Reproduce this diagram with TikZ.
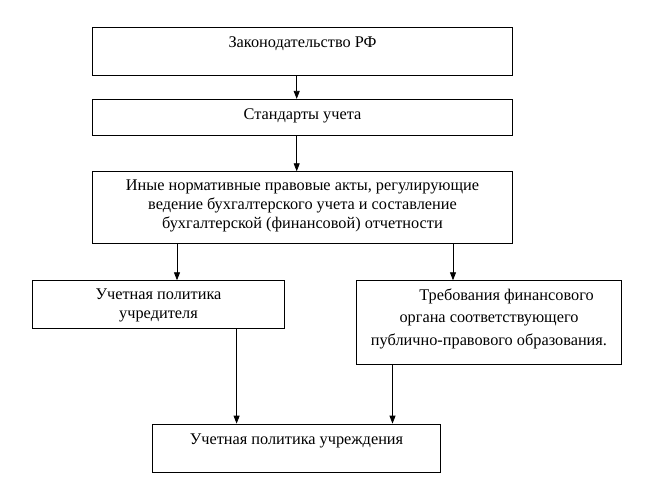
\documentclass[tikz,border=0pt]{standalone}
\usepackage{fontspec}
\setmainfont{Liberation Serif}
\usetikzlibrary{arrows.meta}
\begin{document}
\begin{tikzpicture}[x=1pt,y=-1pt,
  box/.style={draw, line width=0.8pt, inner sep=0pt},
  txt/.style={inner sep=0pt, align=center, font=\fontsize{16.3}{19}\selectfont},
  arr/.style={line width=0.8pt, -{Triangle[width=6pt,length=8pt]}}]
\useasboundingbox (0,0) rectangle (649,496);
% boxes
\node[box, minimum width=420.4pt, minimum height=48pt] (b1) at (302.5,51.3) {};
\node[box, minimum width=420.4pt, minimum height=36pt] (b2) at (302.5,117.3) {};
\node[box, minimum width=420.4pt, minimum height=71.6pt] (b3) at (302.5,207.5) {};
\node[box, minimum width=252.4pt, minimum height=47.6pt] (b4) at (158.5,304.5) {};
\node[box, minimum width=264.4pt, minimum height=83.6pt] (b5) at (489,322.5) {};
\node[box, minimum width=288pt, minimum height=48.3pt] (b6) at (296.5,448.2) {};
% texts
\node[txt] (t1) at (302.5,43.8) {Законодательство РФ};
\node[txt] (t2) at (302.5,115.5) {Стандарты учета};
\node[txt] (t3) at (302.5,205.5) {Иные нормативные правовые акты, регулирующие\\ведение бухгалтерского учета и составление\\бухгалтерской (финансовой) отчетности};
\node[txt] (t4) at (158.5,305) {Учетная политика\\учредителя};
\node[txt, font=\fontsize{16.3}{22.5}\selectfont] (t5) at (489,318.5) {\hspace*{35pt}Требования финансового\\органа соответствующего\\публично-правового образования.};
\node[txt] (t6) at (296.5,440.5) {Учетная политика учреждения};
% arrows
\draw[arr] ([xshift=-5.8pt]b1.south) -- ([xshift=-5.8pt]b1.south |- b2.north);
\draw[arr] ([xshift=-5.8pt]b2.south) -- ([xshift=-5.8pt]b2.south |- b3.north);
\draw[arr] ([xshift=-125.5pt]b3.south) -- ([xshift=-125.5pt]b3.south |- b4.north);
\draw[arr] ([xshift=150.5pt]b3.south) -- ([xshift=150.5pt]b3.south |- b5.north);
\draw[arr] ([xshift=78.1pt]b4.south) -- ([xshift=78.1pt]b4.south |- b6.north);
\draw[arr] ([xshift=-96.5pt]b5.south) -- ([xshift=-96.5pt]b5.south |- b6.north);
\end{tikzpicture}
\end{document}
